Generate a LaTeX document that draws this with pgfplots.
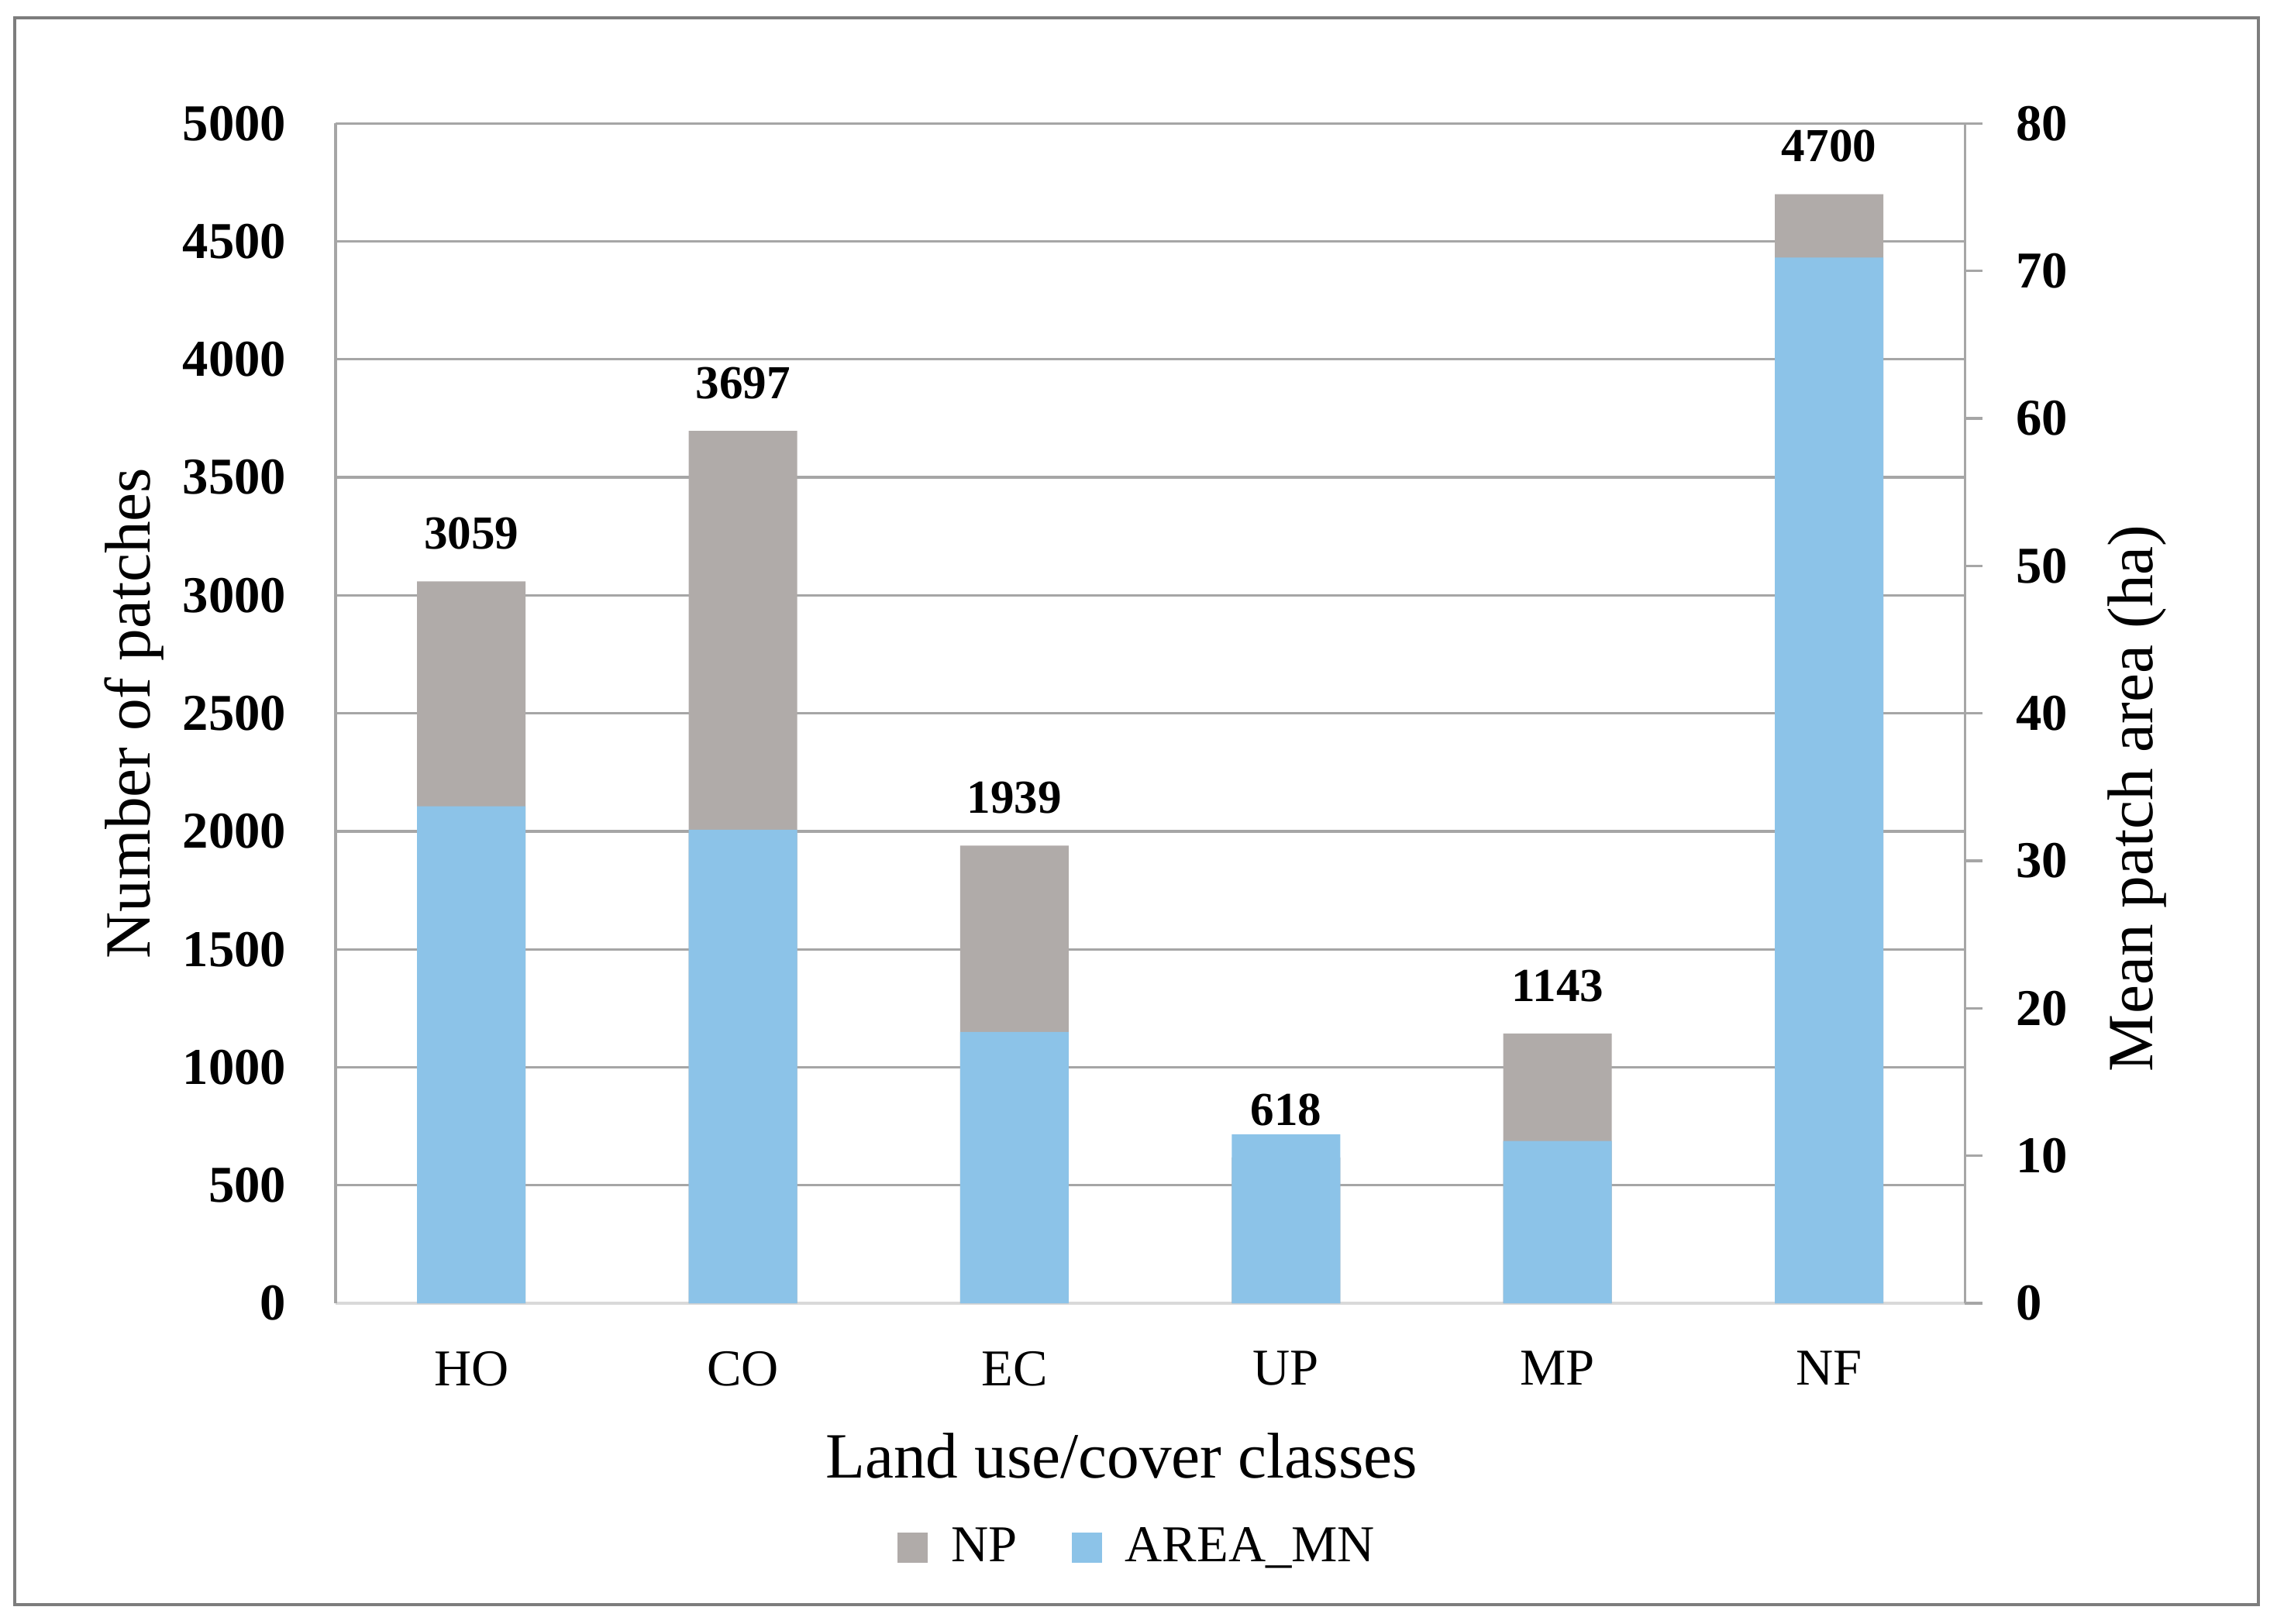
\documentclass[border=0pt]{standalone}
\usepackage{pgfplots}
\pgfplotsset{compat=1.18}
\usepackage{fontspec}
\setmainfont{Liberation Serif}
\definecolor{npgray}{RGB}{176,171,169}
\definecolor{areablue}{RGB}{140,195,232}
\definecolor{gridgray}{RGB}{166,166,166}
\definecolor{axgray}{RGB}{166,166,166}
\definecolor{xaxgray}{RGB}{217,217,217}
\definecolor{framegray}{RGB}{125,125,125}
\pgfplotsset{
  common/.style={
    scale only axis, width=378.4pt, height=274.1pt,
    xmin=-0.5, xmax=5.5,
    /pgf/number format/assume math mode=true,
    /pgf/number format/1000 sep={},
    ybar, bar width=25.2pt,
  },
  sqlegend/.style={legend image code/.code={\fill[##1] (0pt,-3.5pt) rectangle (7pt,3.5pt); \path (10.4pt,0pt);}},
}
\begin{document}
\begin{tikzpicture}
\begin{axis}[common,
  ymin=0, ymax=5000, ytick={0,500,...,5000},
  xtick={0,...,5}, xticklabels={HO,CO,EC,UP,MP,NF},
  axis x line*=bottom, axis y line*=left,
  x axis line style={draw=xaxgray, line width=0.8pt},
  y axis line style={draw=axgray, line width=0.6pt},
  major tick length=0pt,
  ymajorgrids, grid style={draw=gridgray, line width=0.6pt},
  yticklabel style={font=\bfseries\fontsize{12}{14}\selectfont, anchor=east, inner sep=0pt, xshift=-11.3pt},
  xticklabel style={font=\fontsize{12}{14}\selectfont, anchor=north, inner sep=0pt, yshift=-11pt},
  every axis y label/.style={at={(axis description cs:-0.1237,0.5)}, anchor=center, rotate=90, font=\fontsize{15}{18}\selectfont},
  ylabel={Number of patches},
  every axis x label/.style={at={(axis description cs:0.4824,-0.1294)}, anchor=center, font=\fontsize{15}{18}\selectfont},
  xlabel={Land use/cover classes},
  nodes near coords,
  every node near coord/.append style={font=\bfseries\fontsize{11}{13}\selectfont, anchor=south, inner sep=0pt, yshift=7.2pt},
]
\addplot[fill=npgray, draw=none] coordinates {(0,3059) (1,3697) (2,1939) (3,618) (4,1143) (5,4700)};
\end{axis}
\begin{axis}[common,
  ymin=0, ymax=80, ytick={0,10,...,80},
  xtick=\empty,
  axis x line=none, axis y line*=right,
  y axis line style={draw=axgray, line width=0.6pt},
  ytick style={draw=axgray, line width=0.6pt},
  tick align=outside, major tick length=4.1pt,
  yticklabel style={font=\bfseries\fontsize{12}{14}\selectfont, anchor=west, inner sep=0pt, xshift=7.6pt},
  every axis y label/.style={at={(axis description cs:1.1056,0.428)}, anchor=center, rotate=90, font=\fontsize{15}{18}\selectfont},
  ylabel={Mean patch area (ha)},
  legend style={at={(axis description cs:0.4941,-0.2071)}, anchor=center, draw=none, fill=none, legend columns=2, font=\fontsize{12}{14}\selectfont, /tikz/every even column/.append style={column sep=10.7pt}},
]
\addlegendimage{fill=npgray, draw=none, sqlegend}
\addlegendentry{NP}
\addplot[fill=areablue, draw=none, sqlegend] coordinates {(0,33.7) (1,32.1) (2,18.4) (3,11.45) (4,11.0) (5,70.9)};
\addlegendentry{AREA\_MN}
\end{axis}
\pgfresetboundingbox
\path[use as bounding box] (-77.94pt,-74.34pt) rectangle (450.9pt,302.76pt);
\draw[framegray, line width=0.6pt] (-74.52pt,-70.0pt) rectangle (446.58pt,298.62pt);
\end{tikzpicture}
\end{document}
